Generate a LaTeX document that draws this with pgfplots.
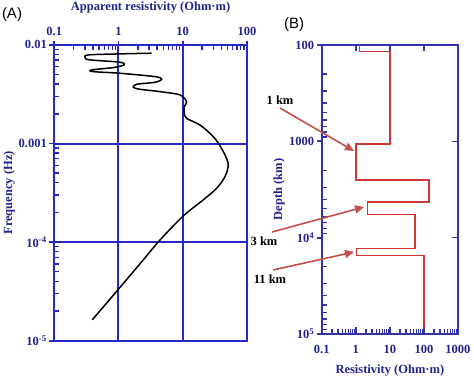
\documentclass[border=0pt]{standalone}
\usepackage{pgfplots}
\pgfplotsset{compat=1.18}
\usepackage{fontspec}
\setmainfont{Liberation Serif}
\newfontfamily\arial{Liberation Sans}
\usetikzlibrary{arrows.meta}
\definecolor{axblue}{RGB}{40,40,200}
\definecolor{axblueB}{RGB}{50,50,170}
\definecolor{lblue}{RGB}{35,35,140}
\definecolor{profred}{RGB}{210,55,55}
\definecolor{arrred}{RGB}{195,80,75}
\begin{document}
\begin{tikzpicture}
\path[use as bounding box] (0pt,0pt) rectangle (474pt,-379pt);
% Panel A
\begin{axis}[
  at={(54.3pt,-340.7pt)}, anchor=south west, scale only axis,
  width=192.6pt, height=295.8pt,
  xmode=log, ymode=log, xmin=0.1, xmax=100, ymin=1e-5, ymax=0.01,
  axis line style={axblue, line width=2pt},
  xtick={0.1,1,10,100}, xticklabels={0.1,1,10,100},
  ytick={1e-5,1e-4,1e-3,1e-2},
  yticklabels={10\textsuperscript{-5},10\textsuperscript{-4},0.001,0.01},
  xtick pos=right, xticklabel pos=right, ytick pos=left,
  major tick length=0pt, minor tick length=0pt,
  major grid style={axblue, line width=2pt},
  xmajorgrids, ymajorgrids,
  ticklabel style={font=\fontsize{12.5}{14}\selectfont\bfseries, text=lblue},
  xticklabel style={yshift=6pt},
  yticklabel style={xshift=-4pt},
  xlabel={Apparent resistivity (Ohm·m)},
  ylabel={Frequency (Hz)},
  label style={font=\fontsize{12.5}{14}\selectfont\bfseries, text=lblue},
  xlabel style={at={(axis description cs:0.5,1.128)}, anchor=center},
  ylabel style={at={(axis description cs:-0.235,0.5)}, anchor=center},
  clip=false,
]
\addplot[black, line width=1.5pt, smooth, tension=0.5] coordinates {
(3.29,8.24e-3) (1.05,8.11e-3) (0.339,7.92e-3) (0.301,7.43e-3) (0.360,7.05e-3)
(1.05,6.68e-3) (1.22,6.27e-3) (0.830,5.89e-3) (0.383,5.58e-3) (0.404,5.36e-3)
(1.05,5.16e-3) (3.70,4.77e-3) (4.71,4.49e-3) (3.70,4.18e-3) (1.92,3.99e-3)
(1.70,3.72e-3) (2.16,3.55e-3) (4.43,3.36e-3) (9.08,3.11e-3) (11.5,2.66e-3)
(10.6,2.37e-3) (10.6,2.03e-3) (11.5,1.80e-3) (18.6,1.54e-3) (28.3,1.22e-3)
(35.9,1.01e-3) (45.6,7.66e-4) (51.3,6.07e-4) (45.6,4.62e-4) (33.9,3.52e-4)
(20.9,2.68e-4) (10.2,1.84e-4) (4.43,1.05e-4) (2.43,6.60e-5) (1.03,3.41e-5)
(0.391,1.63e-5)
};
\pgfplotsinvokeforeach{0.2,0.3,0.4,0.5,0.6,0.7,0.8,0.9,2,3,4,5,6,7,8,9,20,30,40,50,60,70,80,90}{
  \draw[axblue, line width=1.4pt] (axis cs:#1,0.01) -- ++(0pt,-5pt);
}
\pgfplotsinvokeforeach{0.1,1,10,100}{
  \draw[axblue, line width=1.8pt] (axis cs:#1,0.01) -- ++(0pt,4pt);
}
\pgfplotsinvokeforeach{2e-5,3e-5,4e-5,5e-5,6e-5,7e-5,8e-5,9e-5,2e-4,3e-4,4e-4,5e-4,6e-4,7e-4,8e-4,9e-4,2e-3,3e-3,4e-3,5e-3,6e-3,7e-3,8e-3,9e-3}{
  \draw[axblue, line width=1.4pt] (axis cs:0.1,#1) -- ++(5pt,0pt);
}
\pgfplotsinvokeforeach{1e-5,1e-4,1e-3,1e-2}{
  \draw[axblue, line width=1.8pt] (axis cs:0.1,#1) -- ++(-5pt,0pt);
}
\end{axis}
% Panel B
\begin{axis}[
  at={(321.7pt,-334pt)}, anchor=south west, scale only axis,
  width=136.3pt, height=289pt,
  xmode=log, ymode=log, xmin=0.1, xmax=1000, ymin=100, ymax=1e5,
  y dir=reverse,
  axis line style={axblueB, line width=2pt},
  xtick={0.1,1,10,100,1000}, xticklabels={0.1,1,10,100,1000},
  ytick={100,1000,1e4,1e5},
  yticklabels={100,1000,10\textsuperscript{4},10\textsuperscript{5}},
  xtick pos=left, ytick pos=left,
  major tick length=0pt, minor tick length=0pt,
  ticklabel style={font=\fontsize{12.5}{14}\selectfont\bfseries, text=lblue},
  xticklabel style={yshift=-8pt},
  yticklabel style={xshift=-4pt},
  xlabel={Resistivity (Ohm·m)},
  ylabel={Depth (km)},
  label style={font=\fontsize{12.5}{14}\selectfont\bfseries, text=lblue},
  xlabel style={at={(axis description cs:0.5,-0.127)}, anchor=center},
  ylabel style={at={(axis description cs:-0.313,0.5)}, anchor=center},
  clip=false,
]
\addplot[profred, line width=1.6pt] coordinates {
(1.27,100) (1.27,117) (10,117) (10,1067) (1,1067) (1,2520) (143,2520)
(143,4240) (2.2,4240) (2.2,5730) (55,5730) (55,12900) (1.05,12900)
(1.05,15270) (100,15270) (100,1e5)
};
\pgfplotsinvokeforeach{0.2,0.3,0.4,0.5,0.6,0.7,0.8,0.9,2,3,4,5,6,7,8,9,20,30,40,50,60,70,80,90,200,300,400,500,600,700,800,900}{
  \draw[axblueB, line width=1.4pt] (axis cs:#1,1e5) -- ++(0pt,5pt);
}
\pgfplotsinvokeforeach{1,10,100}{
  \draw[axblueB, line width=1.6pt] (axis cs:#1,1e5) -- ++(0pt,7pt);
  \draw[axblueB, line width=1.6pt] (axis cs:#1,100) -- ++(0pt,-6pt);
}
\pgfplotsinvokeforeach{200,300,400,500,600,700,800,900,2000,3000,4000,5000,6000,7000,8000,9000,2e4,3e4,4e4,5e4,6e4,7e4,8e4,9e4}{
  \draw[axblueB, line width=1.4pt] (axis cs:0.1,#1) -- ++(5pt,0pt);
}
\pgfplotsinvokeforeach{100,1000,1e4,1e5}{
  \draw[axblueB, line width=1.8pt] (axis cs:0.1,#1) -- ++(-5pt,0pt);
}
\pgfplotsinvokeforeach{1000,1e4}{
  \draw[axblueB, line width=1.6pt] (axis cs:1000,#1) -- ++(-6pt,0pt);
}
\end{axis}
% Panel letters
\node[font=\arial\fontsize{15}{17}\selectfont] at (12pt,-15pt) {(A)};
\node[font=\arial\fontsize{15}{17}\selectfont] at (294pt,-25pt) {(B)};
% Annotations
\node[font=\fontsize{12.5}{14}\selectfont\bfseries] at (280pt,-100pt) {1 km};
\node[font=\fontsize{12.5}{14}\selectfont\bfseries] at (264pt,-241.7pt) {3 km};
\node[font=\fontsize{12.5}{14}\selectfont\bfseries] at (270pt,-279.3pt) {11 km};
\draw[arrred, line width=1.6pt, -{Triangle[length=9pt,width=8pt]}] (280pt,-108pt) -- (354pt,-151pt);
\draw[arrred, line width=1.6pt, -{Triangle[length=9pt,width=8pt]}] (272pt,-232pt) -- (364pt,-207pt);
\draw[arrred, line width=1.6pt, -{Triangle[length=9pt,width=8pt]}] (273pt,-270pt) -- (354pt,-252pt);
\end{tikzpicture}
\end{document}
